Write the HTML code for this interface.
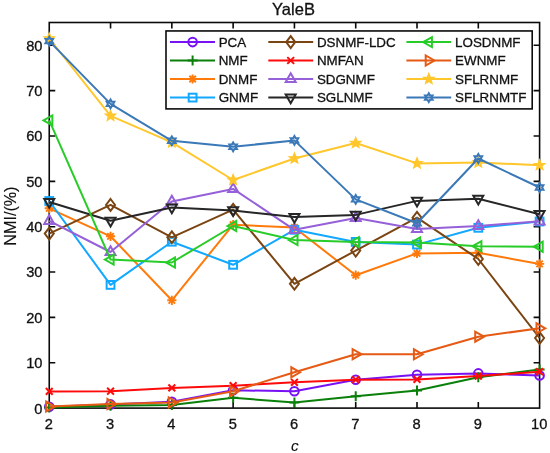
<!DOCTYPE html>
<html><head><meta charset="utf-8"><title>YaleB</title>
<style>html,body{margin:0;padding:0;background:#fff}svg{display:block}text{font-family:"Liberation Sans",Arial,sans-serif;fill:#111;stroke:#111;stroke-width:0.3px}</style></head><body>
<svg width="550" height="453" viewBox="0 0 550 453">
<rect width="550" height="453" fill="#fff"/>
<rect x="49.25" y="22.5" width="490.35" height="385.6" fill="none" stroke="#0a0a0a" stroke-width="1.6"/>
<path d="M110.54 408.1v-6M110.54 22.5v6M171.84 408.1v-6M171.84 22.5v6M233.13 408.1v-6M233.13 22.5v6M294.43 408.1v-6M294.43 22.5v6M355.72 408.1v-6M355.72 22.5v6M417.01 408.1v-6M417.01 22.5v6M478.31 408.1v-6M478.31 22.5v6M49.25 362.75h6M539.6 362.75h-6M49.25 317.4h6M539.6 317.4h-6M49.25 272.05h6M539.6 272.05h-6M49.25 226.7h6M539.6 226.7h-6M49.25 181.35h6M539.6 181.35h-6M49.25 136h6M539.6 136h-6M49.25 90.65h6M539.6 90.65h-6M49.25 45.3h6M539.6 45.3h-6" stroke="#0a0a0a" stroke-width="1.6" fill="none"/>
<g><polyline points="49.25,406.7 110.54,404.4 171.84,401.8 233.13,390.3 294.43,391.2 355.72,379.7 417.01,374.7 478.31,373.4 539.6,375.5" fill="none" stroke="#7812F5" stroke-width="2.0" stroke-linejoin="round"/>
<circle cx="49.25" cy="406.7" r="4.3" stroke="#7812F5" stroke-width="2.0" fill="none" stroke-linejoin="miter"/>
<circle cx="110.54" cy="404.4" r="4.3" stroke="#7812F5" stroke-width="2.0" fill="none" stroke-linejoin="miter"/>
<circle cx="171.84" cy="401.8" r="4.3" stroke="#7812F5" stroke-width="2.0" fill="none" stroke-linejoin="miter"/>
<circle cx="233.13" cy="390.3" r="4.3" stroke="#7812F5" stroke-width="2.0" fill="none" stroke-linejoin="miter"/>
<circle cx="294.43" cy="391.2" r="4.3" stroke="#7812F5" stroke-width="2.0" fill="none" stroke-linejoin="miter"/>
<circle cx="355.72" cy="379.7" r="4.3" stroke="#7812F5" stroke-width="2.0" fill="none" stroke-linejoin="miter"/>
<circle cx="417.01" cy="374.7" r="4.3" stroke="#7812F5" stroke-width="2.0" fill="none" stroke-linejoin="miter"/>
<circle cx="478.31" cy="373.4" r="4.3" stroke="#7812F5" stroke-width="2.0" fill="none" stroke-linejoin="miter"/>
<circle cx="539.6" cy="375.5" r="4.3" stroke="#7812F5" stroke-width="2.0" fill="none" stroke-linejoin="miter"/>
</g>
<g><polyline points="49.25,407.4 110.54,405.7 171.84,405.1 233.13,397.8 294.43,402.6 355.72,396.2 417.01,390.4 478.31,377.2 539.6,369.5" fill="none" stroke="#0A800A" stroke-width="2.0" stroke-linejoin="round"/>
<path d="M44.25 407.4H54.25M49.25 402.4V412.4" stroke="#0A800A" stroke-width="2.0" fill="none" stroke-linejoin="miter"/>
<path d="M105.54 405.7H115.54M110.54 400.7V410.7" stroke="#0A800A" stroke-width="2.0" fill="none" stroke-linejoin="miter"/>
<path d="M166.84 405.1H176.84M171.84 400.1V410.1" stroke="#0A800A" stroke-width="2.0" fill="none" stroke-linejoin="miter"/>
<path d="M228.13 397.8H238.13M233.13 392.8V402.8" stroke="#0A800A" stroke-width="2.0" fill="none" stroke-linejoin="miter"/>
<path d="M289.43 402.6H299.43M294.43 397.6V407.6" stroke="#0A800A" stroke-width="2.0" fill="none" stroke-linejoin="miter"/>
<path d="M350.72 396.2H360.72M355.72 391.2V401.2" stroke="#0A800A" stroke-width="2.0" fill="none" stroke-linejoin="miter"/>
<path d="M412.01 390.4H422.01M417.01 385.4V395.4" stroke="#0A800A" stroke-width="2.0" fill="none" stroke-linejoin="miter"/>
<path d="M473.31 377.2H483.31M478.31 372.2V382.2" stroke="#0A800A" stroke-width="2.0" fill="none" stroke-linejoin="miter"/>
<path d="M534.6 369.5H544.6M539.6 364.5V374.5" stroke="#0A800A" stroke-width="2.0" fill="none" stroke-linejoin="miter"/>
</g>
<g><polyline points="49.25,208.3 110.54,236.3 171.84,300.3 233.13,224.7 294.43,227.5 355.72,275.2 417.01,253.4 478.31,252.8 539.6,263.9" fill="none" stroke="#FF7A0A" stroke-width="2.0" stroke-linejoin="round"/>
<path d="M44.65 208.3H53.85M49.25 203.7V212.9M46 205.05L52.5 211.55M46 211.55L52.5 205.05" stroke="#FF7A0A" stroke-width="1.9" fill="none"/>
<path d="M105.94 236.3H115.14M110.54 231.7V240.9M107.29 233.05L113.8 239.55M107.29 239.55L113.8 233.05" stroke="#FF7A0A" stroke-width="1.9" fill="none"/>
<path d="M167.24 300.3H176.44M171.84 295.7V304.9M168.59 297.05L175.09 303.55M168.59 303.55L175.09 297.05" stroke="#FF7A0A" stroke-width="1.9" fill="none"/>
<path d="M228.53 224.7H237.73M233.13 220.1V229.3M229.88 221.45L236.38 227.95M229.88 227.95L236.38 221.45" stroke="#FF7A0A" stroke-width="1.9" fill="none"/>
<path d="M289.82 227.5H299.03M294.43 222.9V232.1M291.17 224.25L297.68 230.75M291.17 230.75L297.68 224.25" stroke="#FF7A0A" stroke-width="1.9" fill="none"/>
<path d="M351.12 275.2H360.32M355.72 270.6V279.8M352.47 271.95L358.97 278.45M352.47 278.45L358.97 271.95" stroke="#FF7A0A" stroke-width="1.9" fill="none"/>
<path d="M412.41 253.4H421.61M417.01 248.8V258M413.76 250.15L420.26 256.65M413.76 256.65L420.26 250.15" stroke="#FF7A0A" stroke-width="1.9" fill="none"/>
<path d="M473.71 252.8H482.91M478.31 248.2V257.4M475.05 249.55L481.56 256.05M475.05 256.05L481.56 249.55" stroke="#FF7A0A" stroke-width="1.9" fill="none"/>
<path d="M535 263.9H544.2M539.6 259.3V268.5M536.35 260.65L542.85 267.15M536.35 267.15L542.85 260.65" stroke="#FF7A0A" stroke-width="1.9" fill="none"/>
</g>
<g><polyline points="49.25,201 110.54,284.9 171.84,241.7 233.13,264.8 294.43,229.8 355.72,241.9 417.01,244.6 478.31,227.8 539.6,221.5" fill="none" stroke="#12A8FF" stroke-width="2.0" stroke-linejoin="round"/>
<rect x="45.35" y="197.1" width="7.8" height="7.8" stroke="#12A8FF" stroke-width="2.0" fill="none" stroke-linejoin="miter"/>
<rect x="106.64" y="281" width="7.8" height="7.8" stroke="#12A8FF" stroke-width="2.0" fill="none" stroke-linejoin="miter"/>
<rect x="167.94" y="237.8" width="7.8" height="7.8" stroke="#12A8FF" stroke-width="2.0" fill="none" stroke-linejoin="miter"/>
<rect x="229.23" y="260.9" width="7.8" height="7.8" stroke="#12A8FF" stroke-width="2.0" fill="none" stroke-linejoin="miter"/>
<rect x="290.53" y="225.9" width="7.8" height="7.8" stroke="#12A8FF" stroke-width="2.0" fill="none" stroke-linejoin="miter"/>
<rect x="351.82" y="238" width="7.8" height="7.8" stroke="#12A8FF" stroke-width="2.0" fill="none" stroke-linejoin="miter"/>
<rect x="413.11" y="240.7" width="7.8" height="7.8" stroke="#12A8FF" stroke-width="2.0" fill="none" stroke-linejoin="miter"/>
<rect x="474.41" y="223.9" width="7.8" height="7.8" stroke="#12A8FF" stroke-width="2.0" fill="none" stroke-linejoin="miter"/>
<rect x="535.7" y="217.6" width="7.8" height="7.8" stroke="#12A8FF" stroke-width="2.0" fill="none" stroke-linejoin="miter"/>
</g>
<g><polyline points="49.25,233.6 110.54,204.9 171.84,237.3 233.13,209.7 294.43,283.8 355.72,250.6 417.01,217.7 478.31,259 539.6,338" fill="none" stroke="#7A4512" stroke-width="2.0" stroke-linejoin="round"/>
<path d="M49.25 227.7L53.75 233.6L49.25 239.5L44.75 233.6Z" stroke="#7A4512" stroke-width="2.0" fill="none" stroke-linejoin="miter"/>
<path d="M110.54 199L115.04 204.9L110.54 210.8L106.04 204.9Z" stroke="#7A4512" stroke-width="2.0" fill="none" stroke-linejoin="miter"/>
<path d="M171.84 231.4L176.34 237.3L171.84 243.2L167.34 237.3Z" stroke="#7A4512" stroke-width="2.0" fill="none" stroke-linejoin="miter"/>
<path d="M233.13 203.8L237.63 209.7L233.13 215.6L228.63 209.7Z" stroke="#7A4512" stroke-width="2.0" fill="none" stroke-linejoin="miter"/>
<path d="M294.43 277.9L298.93 283.8L294.43 289.7L289.93 283.8Z" stroke="#7A4512" stroke-width="2.0" fill="none" stroke-linejoin="miter"/>
<path d="M355.72 244.7L360.22 250.6L355.72 256.5L351.22 250.6Z" stroke="#7A4512" stroke-width="2.0" fill="none" stroke-linejoin="miter"/>
<path d="M417.01 211.8L421.51 217.7L417.01 223.6L412.51 217.7Z" stroke="#7A4512" stroke-width="2.0" fill="none" stroke-linejoin="miter"/>
<path d="M478.31 253.1L482.81 259L478.31 264.9L473.81 259Z" stroke="#7A4512" stroke-width="2.0" fill="none" stroke-linejoin="miter"/>
<path d="M539.6 332.1L544.1 338L539.6 343.9L535.1 338Z" stroke="#7A4512" stroke-width="2.0" fill="none" stroke-linejoin="miter"/>
</g>
<g><polyline points="49.25,391.4 110.54,391.2 171.84,387.9 233.13,385.7 294.43,382.3 355.72,379.7 417.01,379.4 478.31,376.1 539.6,371.7" fill="none" stroke="#FF0A0A" stroke-width="2.0" stroke-linejoin="round"/>
<path d="M45.85 388L52.65 394.8M45.85 394.8L52.65 388" stroke="#FF0A0A" stroke-width="2.0" fill="none" stroke-linejoin="miter"/>
<path d="M107.14 387.8L113.94 394.6M107.14 394.6L113.94 387.8" stroke="#FF0A0A" stroke-width="2.0" fill="none" stroke-linejoin="miter"/>
<path d="M168.44 384.5L175.24 391.3M168.44 391.3L175.24 384.5" stroke="#FF0A0A" stroke-width="2.0" fill="none" stroke-linejoin="miter"/>
<path d="M229.73 382.3L236.53 389.1M229.73 389.1L236.53 382.3" stroke="#FF0A0A" stroke-width="2.0" fill="none" stroke-linejoin="miter"/>
<path d="M291.03 378.9L297.82 385.7M291.03 385.7L297.82 378.9" stroke="#FF0A0A" stroke-width="2.0" fill="none" stroke-linejoin="miter"/>
<path d="M352.32 376.3L359.12 383.1M352.32 383.1L359.12 376.3" stroke="#FF0A0A" stroke-width="2.0" fill="none" stroke-linejoin="miter"/>
<path d="M413.61 376L420.41 382.8M413.61 382.8L420.41 376" stroke="#FF0A0A" stroke-width="2.0" fill="none" stroke-linejoin="miter"/>
<path d="M474.91 372.7L481.71 379.5M474.91 379.5L481.71 372.7" stroke="#FF0A0A" stroke-width="2.0" fill="none" stroke-linejoin="miter"/>
<path d="M536.2 368.3L543 375.1M536.2 375.1L543 368.3" stroke="#FF0A0A" stroke-width="2.0" fill="none" stroke-linejoin="miter"/>
</g>
<g><polyline points="49.25,220.8 110.54,252 171.84,201.5 233.13,188.9 294.43,229.8 355.72,218 417.01,229 478.31,226 539.6,221.3" fill="none" stroke="#9560D8" stroke-width="2.0" stroke-linejoin="round"/>
<path d="M49.25 215.1L54.25 223.9L44.25 223.9Z" stroke="#9560D8" stroke-width="2.0" fill="none" stroke-linejoin="miter"/>
<path d="M110.54 246.3L115.54 255.1L105.54 255.1Z" stroke="#9560D8" stroke-width="2.0" fill="none" stroke-linejoin="miter"/>
<path d="M171.84 195.8L176.84 204.6L166.84 204.6Z" stroke="#9560D8" stroke-width="2.0" fill="none" stroke-linejoin="miter"/>
<path d="M233.13 183.2L238.13 192L228.13 192Z" stroke="#9560D8" stroke-width="2.0" fill="none" stroke-linejoin="miter"/>
<path d="M294.43 224.1L299.43 232.9L289.43 232.9Z" stroke="#9560D8" stroke-width="2.0" fill="none" stroke-linejoin="miter"/>
<path d="M355.72 212.3L360.72 221.1L350.72 221.1Z" stroke="#9560D8" stroke-width="2.0" fill="none" stroke-linejoin="miter"/>
<path d="M417.01 223.3L422.01 232.1L412.01 232.1Z" stroke="#9560D8" stroke-width="2.0" fill="none" stroke-linejoin="miter"/>
<path d="M478.31 220.3L483.31 229.1L473.31 229.1Z" stroke="#9560D8" stroke-width="2.0" fill="none" stroke-linejoin="miter"/>
<path d="M539.6 215.6L544.6 224.4L534.6 224.4Z" stroke="#9560D8" stroke-width="2.0" fill="none" stroke-linejoin="miter"/>
</g>
<g><polyline points="49.25,202 110.54,220.8 171.84,207.5 233.13,210.4 294.43,217.1 355.72,214.9 417.01,200.9 478.31,198.8 539.6,214.2" fill="none" stroke="#262626" stroke-width="2.0" stroke-linejoin="round"/>
<path d="M49.25 207.7L54.25 198.9L44.25 198.9Z" stroke="#262626" stroke-width="2.0" fill="none" stroke-linejoin="miter"/>
<path d="M110.54 226.5L115.54 217.7L105.54 217.7Z" stroke="#262626" stroke-width="2.0" fill="none" stroke-linejoin="miter"/>
<path d="M171.84 213.2L176.84 204.4L166.84 204.4Z" stroke="#262626" stroke-width="2.0" fill="none" stroke-linejoin="miter"/>
<path d="M233.13 216.1L238.13 207.3L228.13 207.3Z" stroke="#262626" stroke-width="2.0" fill="none" stroke-linejoin="miter"/>
<path d="M294.43 222.8L299.43 214L289.43 214Z" stroke="#262626" stroke-width="2.0" fill="none" stroke-linejoin="miter"/>
<path d="M355.72 220.6L360.72 211.8L350.72 211.8Z" stroke="#262626" stroke-width="2.0" fill="none" stroke-linejoin="miter"/>
<path d="M417.01 206.6L422.01 197.8L412.01 197.8Z" stroke="#262626" stroke-width="2.0" fill="none" stroke-linejoin="miter"/>
<path d="M478.31 204.5L483.31 195.7L473.31 195.7Z" stroke="#262626" stroke-width="2.0" fill="none" stroke-linejoin="miter"/>
<path d="M539.6 219.9L544.6 211.1L534.6 211.1Z" stroke="#262626" stroke-width="2.0" fill="none" stroke-linejoin="miter"/>
</g>
<g><polyline points="49.25,120.4 110.54,259.6 171.84,262.5 233.13,226 294.43,240 355.72,242.1 417.01,242.4 478.31,246.2 539.6,246.7" fill="none" stroke="#28CC28" stroke-width="2.0" stroke-linejoin="round"/>
<path d="M43.55 120.4L52.35 115.4L52.35 125.4Z" stroke="#28CC28" stroke-width="2.0" fill="none" stroke-linejoin="miter"/>
<path d="M104.84 259.6L113.64 254.6L113.64 264.6Z" stroke="#28CC28" stroke-width="2.0" fill="none" stroke-linejoin="miter"/>
<path d="M166.14 262.5L174.94 257.5L174.94 267.5Z" stroke="#28CC28" stroke-width="2.0" fill="none" stroke-linejoin="miter"/>
<path d="M227.43 226L236.23 221L236.23 231Z" stroke="#28CC28" stroke-width="2.0" fill="none" stroke-linejoin="miter"/>
<path d="M288.73 240L297.53 235L297.53 245Z" stroke="#28CC28" stroke-width="2.0" fill="none" stroke-linejoin="miter"/>
<path d="M350.02 242.1L358.82 237.1L358.82 247.1Z" stroke="#28CC28" stroke-width="2.0" fill="none" stroke-linejoin="miter"/>
<path d="M411.31 242.4L420.11 237.4L420.11 247.4Z" stroke="#28CC28" stroke-width="2.0" fill="none" stroke-linejoin="miter"/>
<path d="M472.61 246.2L481.41 241.2L481.41 251.2Z" stroke="#28CC28" stroke-width="2.0" fill="none" stroke-linejoin="miter"/>
<path d="M533.9 246.7L542.7 241.7L542.7 251.7Z" stroke="#28CC28" stroke-width="2.0" fill="none" stroke-linejoin="miter"/>
</g>
<g><polyline points="49.25,406.5 110.54,404 171.84,402.5 233.13,391.2 294.43,372.3 355.72,354.2 417.01,354.3 478.31,336.7 539.6,328.3" fill="none" stroke="#E55A14" stroke-width="2.0" stroke-linejoin="round"/>
<path d="M54.95 406.5L46.15 401.5L46.15 411.5Z" stroke="#E55A14" stroke-width="2.0" fill="none" stroke-linejoin="miter"/>
<path d="M116.24 404L107.44 399L107.44 409Z" stroke="#E55A14" stroke-width="2.0" fill="none" stroke-linejoin="miter"/>
<path d="M177.54 402.5L168.74 397.5L168.74 407.5Z" stroke="#E55A14" stroke-width="2.0" fill="none" stroke-linejoin="miter"/>
<path d="M238.83 391.2L230.03 386.2L230.03 396.2Z" stroke="#E55A14" stroke-width="2.0" fill="none" stroke-linejoin="miter"/>
<path d="M300.12 372.3L291.32 367.3L291.32 377.3Z" stroke="#E55A14" stroke-width="2.0" fill="none" stroke-linejoin="miter"/>
<path d="M361.42 354.2L352.62 349.2L352.62 359.2Z" stroke="#E55A14" stroke-width="2.0" fill="none" stroke-linejoin="miter"/>
<path d="M422.71 354.3L413.91 349.3L413.91 359.3Z" stroke="#E55A14" stroke-width="2.0" fill="none" stroke-linejoin="miter"/>
<path d="M484.01 336.7L475.21 331.7L475.21 341.7Z" stroke="#E55A14" stroke-width="2.0" fill="none" stroke-linejoin="miter"/>
<path d="M545.3 328.3L536.5 323.3L536.5 333.3Z" stroke="#E55A14" stroke-width="2.0" fill="none" stroke-linejoin="miter"/>
</g>
<g><polyline points="49.25,38.5 110.54,115.8 171.84,142.4 233.13,180 294.43,158.5 355.72,143 417.01,163.4 478.31,162.5 539.6,165.2" fill="none" stroke="#FFC72C" stroke-width="2.0" stroke-linejoin="round"/>
<polygon points="49.25,32.9 50.67,36.55 54.58,36.77 51.54,39.24 52.54,43.03 49.25,40.91 45.96,43.03 46.96,39.24 43.92,36.77 47.83,36.55" fill="#FFC72C" stroke="#FFC72C" stroke-width="1.2"/>
<polygon points="110.54,110.2 111.96,113.85 115.87,114.07 112.83,116.54 113.84,120.33 110.54,118.21 107.25,120.33 108.25,116.54 105.22,114.07 109.13,113.85" fill="#FFC72C" stroke="#FFC72C" stroke-width="1.2"/>
<polygon points="171.84,136.8 173.25,140.45 177.16,140.67 174.13,143.14 175.13,146.93 171.84,144.81 168.55,146.93 169.55,143.14 166.51,140.67 170.42,140.45" fill="#FFC72C" stroke="#FFC72C" stroke-width="1.2"/>
<polygon points="233.13,174.4 234.55,178.05 238.46,178.27 235.42,180.74 236.42,184.53 233.13,182.41 229.84,184.53 230.84,180.74 227.81,178.27 231.72,178.05" fill="#FFC72C" stroke="#FFC72C" stroke-width="1.2"/>
<polygon points="294.43,152.9 295.84,156.55 299.75,156.77 296.72,159.24 297.72,163.03 294.43,160.91 291.13,163.03 292.13,159.24 289.1,156.77 293.01,156.55" fill="#FFC72C" stroke="#FFC72C" stroke-width="1.2"/>
<polygon points="355.72,137.4 357.13,141.05 361.04,141.27 358.01,143.74 359.01,147.53 355.72,145.41 352.43,147.53 353.43,143.74 350.39,141.27 354.3,141.05" fill="#FFC72C" stroke="#FFC72C" stroke-width="1.2"/>
<polygon points="417.01,157.8 418.43,161.45 422.34,161.67 419.3,164.14 420.3,167.93 417.01,165.81 413.72,167.93 414.72,164.14 411.69,161.67 415.6,161.45" fill="#FFC72C" stroke="#FFC72C" stroke-width="1.2"/>
<polygon points="478.31,156.9 479.72,160.55 483.63,160.77 480.6,163.24 481.6,167.03 478.31,164.91 475.01,167.03 476.02,163.24 472.98,160.77 476.89,160.55" fill="#FFC72C" stroke="#FFC72C" stroke-width="1.2"/>
<polygon points="539.6,159.6 541.02,163.25 544.93,163.47 541.89,165.94 542.89,169.73 539.6,167.61 536.31,169.73 537.31,165.94 534.27,163.47 538.18,163.25" fill="#FFC72C" stroke="#FFC72C" stroke-width="1.2"/>
</g>
<g><polyline points="49.25,41.1 110.54,103.9 171.84,140.8 233.13,146.8 294.43,140.4 355.72,199.4 417.01,223.2 478.31,158.5 539.6,187.5" fill="none" stroke="#3A78B8" stroke-width="2.0" stroke-linejoin="round"/>
<polygon points="49.25,36.7 50.52,38.9 53.06,38.9 51.79,41.1 53.06,43.3 50.52,43.3 49.25,45.5 47.98,43.3 45.44,43.3 46.71,41.1 45.44,38.9 47.98,38.9" fill="none" stroke="#3A78B8" stroke-width="2.0"/>
<polygon points="110.54,99.5 111.81,101.7 114.35,101.7 113.08,103.9 114.35,106.1 111.81,106.1 110.54,108.3 109.27,106.1 106.73,106.1 108,103.9 106.73,101.7 109.27,101.7" fill="none" stroke="#3A78B8" stroke-width="2.0"/>
<polygon points="171.84,136.4 173.11,138.6 175.65,138.6 174.38,140.8 175.65,143 173.11,143 171.84,145.2 170.57,143 168.03,143 169.3,140.8 168.03,138.6 170.57,138.6" fill="none" stroke="#3A78B8" stroke-width="2.0"/>
<polygon points="233.13,142.4 234.4,144.6 236.94,144.6 235.67,146.8 236.94,149 234.4,149 233.13,151.2 231.86,149 229.32,149 230.59,146.8 229.32,144.6 231.86,144.6" fill="none" stroke="#3A78B8" stroke-width="2.0"/>
<polygon points="294.43,136 295.69,138.2 298.24,138.2 296.96,140.4 298.24,142.6 295.69,142.6 294.43,144.8 293.16,142.6 290.61,142.6 291.89,140.4 290.61,138.2 293.16,138.2" fill="none" stroke="#3A78B8" stroke-width="2.0"/>
<polygon points="355.72,195 356.99,197.2 359.53,197.2 358.26,199.4 359.53,201.6 356.99,201.6 355.72,203.8 354.45,201.6 351.91,201.6 353.18,199.4 351.91,197.2 354.45,197.2" fill="none" stroke="#3A78B8" stroke-width="2.0"/>
<polygon points="417.01,218.8 418.28,221 420.82,221 419.55,223.2 420.82,225.4 418.28,225.4 417.01,227.6 415.74,225.4 413.2,225.4 414.47,223.2 413.2,221 415.74,221" fill="none" stroke="#3A78B8" stroke-width="2.0"/>
<polygon points="478.31,154.1 479.58,156.3 482.12,156.3 480.85,158.5 482.12,160.7 479.58,160.7 478.31,162.9 477.04,160.7 474.5,160.7 475.77,158.5 474.5,156.3 477.04,156.3" fill="none" stroke="#3A78B8" stroke-width="2.0"/>
<polygon points="539.6,183.1 540.87,185.3 543.41,185.3 542.14,187.5 543.41,189.7 540.87,189.7 539.6,191.9 538.33,189.7 535.79,189.7 537.06,187.5 535.79,185.3 538.33,185.3" fill="none" stroke="#3A78B8" stroke-width="2.0"/>
</g>
<text x="48.85" y="429.3" font-size="14.67" text-anchor="middle">2</text>
<text x="110.14" y="429.3" font-size="14.67" text-anchor="middle">3</text>
<text x="171.44" y="429.3" font-size="14.67" text-anchor="middle">4</text>
<text x="232.73" y="429.3" font-size="14.67" text-anchor="middle">5</text>
<text x="294.03" y="429.3" font-size="14.67" text-anchor="middle">6</text>
<text x="355.32" y="429.3" font-size="14.67" text-anchor="middle">7</text>
<text x="416.61" y="429.3" font-size="14.67" text-anchor="middle">8</text>
<text x="477.91" y="429.3" font-size="14.67" text-anchor="middle">9</text>
<text x="539.2" y="429.3" font-size="14.67" text-anchor="middle">10</text>
<text x="42.5" y="413.5" font-size="14.67" text-anchor="end">0</text>
<text x="42.5" y="368.15" font-size="14.67" text-anchor="end">10</text>
<text x="42.5" y="322.8" font-size="14.67" text-anchor="end">20</text>
<text x="42.5" y="277.45" font-size="14.67" text-anchor="end">30</text>
<text x="42.5" y="232.1" font-size="14.67" text-anchor="end">40</text>
<text x="42.5" y="186.75" font-size="14.67" text-anchor="end">50</text>
<text x="42.5" y="141.4" font-size="14.67" text-anchor="end">60</text>
<text x="42.5" y="96.05" font-size="14.67" text-anchor="end">70</text>
<text x="42.5" y="50.7" font-size="14.67" text-anchor="end">80</text>
<text x="293.5" y="14.8" font-size="16.5" text-anchor="middle">YaleB</text>
<text x="294.9" y="451.3" font-size="15.3" text-anchor="middle" font-style="italic" style="stroke-width:0.1px">c</text>
<text transform="translate(16.4,216.1) rotate(-90)" font-size="16.15" style="stroke-width:0.15px" text-anchor="middle">NMI/(%)</text>
<rect x="166.0" y="30.95" width="366.20000000000005" height="77.95" fill="#fff" stroke="#0a0a0a" stroke-width="1.6"/>
<path d="M170 42.1H215" stroke="#7812F5" stroke-width="2.0"/>
<circle cx="192.6" cy="42.1" r="4.3" stroke="#7812F5" stroke-width="2.0" fill="none" stroke-linejoin="miter"/>
<text x="218.7" y="46.8" font-size="13.38">PCA</text>
<path d="M170 60.5H215" stroke="#0A800A" stroke-width="2.0"/>
<path d="M187.6 60.5H197.6M192.6 55.5V65.5" stroke="#0A800A" stroke-width="2.0" fill="none" stroke-linejoin="miter"/>
<text x="218.7" y="65.2" font-size="13.38">NMF</text>
<path d="M170 79H215" stroke="#FF7A0A" stroke-width="2.0"/>
<path d="M188 79H197.2M192.6 74.4V83.6M189.35 75.75L195.85 82.25M189.35 82.25L195.85 75.75" stroke="#FF7A0A" stroke-width="1.9" fill="none"/>
<text x="218.7" y="83.7" font-size="13.38">DNMF</text>
<path d="M170 97.6H215" stroke="#12A8FF" stroke-width="2.0"/>
<rect x="188.7" y="93.7" width="7.8" height="7.8" stroke="#12A8FF" stroke-width="2.0" fill="none" stroke-linejoin="miter"/>
<text x="218.7" y="102.3" font-size="13.38">GNMF</text>
<path d="M268.3 42.1H313.2" stroke="#7A4512" stroke-width="2.0"/>
<path d="M290.7 36.2L295.2 42.1L290.7 48L286.2 42.1Z" stroke="#7A4512" stroke-width="2.0" fill="none" stroke-linejoin="miter"/>
<text x="316.9" y="46.8" font-size="13.38">DSNMF-LDC</text>
<path d="M268.3 60.5H313.2" stroke="#FF0A0A" stroke-width="2.0"/>
<path d="M287.3 57.1L294.1 63.9M287.3 63.9L294.1 57.1" stroke="#FF0A0A" stroke-width="2.0" fill="none" stroke-linejoin="miter"/>
<text x="316.9" y="65.2" font-size="13.38">NMFAN</text>
<path d="M268.3 79H313.2" stroke="#9560D8" stroke-width="2.0"/>
<path d="M290.7 73.3L295.7 82.1L285.7 82.1Z" stroke="#9560D8" stroke-width="2.0" fill="none" stroke-linejoin="miter"/>
<text x="316.9" y="83.7" font-size="13.38">SDGNMF</text>
<path d="M268.3 97.6H313.2" stroke="#262626" stroke-width="2.0"/>
<path d="M290.7 103.3L295.7 94.5L285.7 94.5Z" stroke="#262626" stroke-width="2.0" fill="none" stroke-linejoin="miter"/>
<text x="316.9" y="102.3" font-size="13.38">SGLNMF</text>
<path d="M406.4 42.1H451.2" stroke="#28CC28" stroke-width="2.0"/>
<path d="M423.1 42.1L431.9 37.1L431.9 47.1Z" stroke="#28CC28" stroke-width="2.0" fill="none" stroke-linejoin="miter"/>
<text x="455.1" y="46.8" font-size="13.38">LOSDNMF</text>
<path d="M406.4 60.5H451.2" stroke="#E55A14" stroke-width="2.0"/>
<path d="M434.5 60.5L425.7 55.5L425.7 65.5Z" stroke="#E55A14" stroke-width="2.0" fill="none" stroke-linejoin="miter"/>
<text x="455.1" y="65.2" font-size="13.38">EWNMF</text>
<path d="M406.4 79H451.2" stroke="#FFC72C" stroke-width="2.0"/>
<polygon points="428.8,73.4 430.22,77.05 434.13,77.27 431.09,79.74 432.09,83.53 428.8,81.41 425.51,83.53 426.51,79.74 423.47,77.27 427.38,77.05" fill="#FFC72C" stroke="#FFC72C" stroke-width="1.2"/>
<text x="455.1" y="83.7" font-size="13.38">SFLRNMF</text>
<path d="M406.4 97.6H451.2" stroke="#3A78B8" stroke-width="2.0"/>
<polygon points="428.8,93.2 430.07,95.4 432.61,95.4 431.34,97.6 432.61,99.8 430.07,99.8 428.8,102 427.53,99.8 424.99,99.8 426.26,97.6 424.99,95.4 427.53,95.4" fill="none" stroke="#3A78B8" stroke-width="2.0"/>
<text x="455.1" y="102.3" font-size="13.38">SFLRNMTF</text>
</svg></body></html>
